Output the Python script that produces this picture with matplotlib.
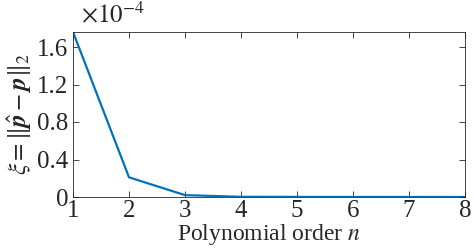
import matplotlib
matplotlib.use('Agg')
import matplotlib.pyplot as plt

# error norm vs polynomial order
orders = [1, 2, 3, 4, 5, 6, 7, 8]
xi = [1.76e-4, 0.21e-4, 0.02e-4, 0.002e-4, 0.001e-4, 0.0005e-4, 0.0003e-4, 0.0002e-4]
yticks = [0, 0.4e-4, 0.8e-4, 1.2e-4, 1.6e-4]
ytick_labels = ['0', '0.4', '0.8', '1.2', '1.6']

plt.rcParams['font.family'] = ['Liberation Serif', 'DejaVu Serif']
plt.rcParams['mathtext.fontset'] = 'stix'

fig = plt.figure(figsize=(4.74, 2.48), dpi=100)
ax = fig.add_axes([73 / 474, 1 - 197 / 248, (465 - 73) / 474, (197 - 32) / 248])

ax.plot(orders, xi, color='#0072BD', lw=1.6)
ax.set_xlim(1, 8)
ax.set_ylim(0, max(xi))
ax.set_xticks(orders)
ax.set_yticks(yticks)
ax.set_yticklabels(ytick_labels)
ax.tick_params(direction='in', top=True, right=True, labelsize=18,
               color='#262626', labelcolor='#262626', length=4, width=0.6)
ax.tick_params(axis='x', pad=2)
for s in ax.spines.values():
    s.set_color('#262626')
    s.set_linewidth(0.6)

ax.set_xlabel(r'Polynomial order $n$', fontsize=17, color='#262626', labelpad=0)
ax.set_ylabel(r'$\xi = \Vert\hat{\boldsymbol{p}} - \boldsymbol{p}\Vert_2$',
              fontsize=18, color='#262626', labelpad=2)
ax.text(0.02, 1.03, r'$\times 10^{-4}$', transform=ax.transAxes, fontsize=18,
        color='#262626', ha='left', va='bottom')

fig.savefig('out.png', dpi=100)
